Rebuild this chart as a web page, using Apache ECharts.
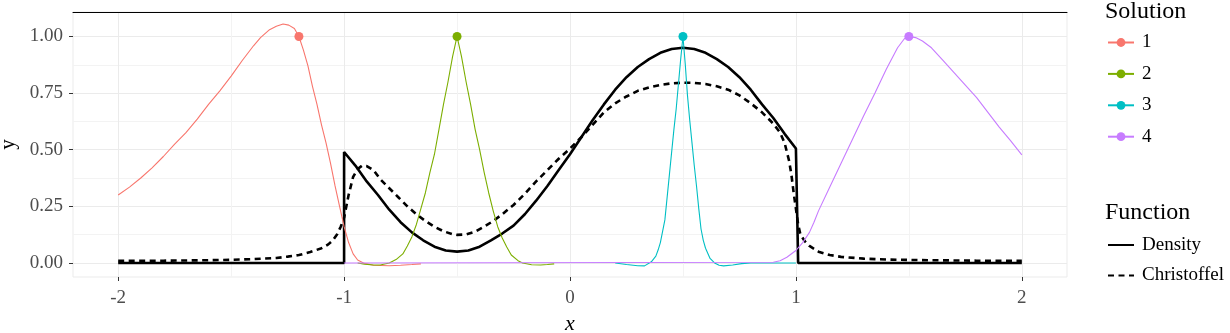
<!DOCTYPE html>
<html>
<head>
<meta charset="utf-8">
<script src="https://cdn.jsdelivr.net/npm/echarts@6/dist/echarts.min.js"></script>
<style>
    html, body { margin: 0; padding: 0; background: #fff; }
    #chart { width: 1230px; height: 333px; }
</style>
</head>
<body>
<div id="chart"></div>
<script>
// tick positions
var xTicks = [-2, -1, 0, 1, 2];
var xMinor = [-1.5, -0.5, 0.5, 1.5];
var yTicks = [0, 0.25, 0.5, 0.75, 1];
var yMinor = [0.125, 0.375, 0.625, 0.875];

// Function curves (black)
var densityX = [-2, -1, -1, -0.95, -0.9, -0.85, -0.8, -0.75, -0.7, -0.65, -0.6, -0.55, -0.5, -0.45, -0.4, -0.35, -0.3, -0.25, -0.2, -0.15, -0.1, -0.05,
    0, 0.05, 0.1, 0.15, 0.2, 0.25, 0.3, 0.35, 0.4, 0.45, 0.5, 0.55, 0.6, 0.65, 0.7, 0.75, 0.8, 0.85, 0.9, 0.95, 1, 1.01, 2];
var densityY = [0, 0, 0.49, 0.43, 0.36, 0.3, 0.235, 0.18, 0.135, 0.1, 0.072, 0.055, 0.05, 0.055, 0.072, 0.1, 0.13, 0.165, 0.215, 0.275, 0.34, 0.41,
    0.48, 0.555, 0.63, 0.7, 0.765, 0.82, 0.865, 0.9, 0.928, 0.945, 0.95, 0.945, 0.928, 0.9, 0.865, 0.82, 0.765, 0.7, 0.64, 0.57, 0.505, 0, 0];

var christX = [-2, -1.8, -1.6, -1.5, -1.4, -1.3, -1.25, -1.2, -1.15, -1.1, -1.07, -1.05, -1.03, -1.015, -1, -0.98, -0.96, -0.94, -0.92, -0.9,
    -0.87, -0.84, -0.8, -0.76, -0.72, -0.68, -0.64, -0.6, -0.56, -0.52, -0.5, -0.46, -0.42, -0.38, -0.34, -0.3, -0.25, -0.2, -0.15, -0.1, -0.05,
    0, 0.05, 0.1, 0.15, 0.2, 0.25, 0.3, 0.35, 0.4, 0.45, 0.5, 0.55, 0.6, 0.65, 0.7, 0.75, 0.8, 0.85, 0.9, 0.93, 0.95, 0.97, 0.98, 0.99, 1,
    1.01, 1.02, 1.04, 1.06, 1.1, 1.15, 1.2, 1.3, 1.4, 1.6, 1.8, 2];
var christY = [0.009, 0.01, 0.012, 0.014, 0.017, 0.022, 0.028, 0.035, 0.048, 0.065, 0.082, 0.1, 0.128, 0.16, 0.2, 0.3, 0.38, 0.415, 0.43, 0.428,
    0.41, 0.37, 0.33, 0.29, 0.25, 0.215, 0.185, 0.16, 0.14, 0.127, 0.124, 0.126, 0.138, 0.16, 0.185, 0.215, 0.256, 0.305, 0.36, 0.41, 0.46,
    0.505, 0.555, 0.61, 0.665, 0.705, 0.735, 0.76, 0.775, 0.786, 0.793, 0.796, 0.795, 0.79, 0.78, 0.765, 0.74, 0.705, 0.665, 0.615, 0.575, 0.53, 0.45, 0.39, 0.31, 0.24,
    0.17, 0.125, 0.095, 0.075, 0.05, 0.035, 0.027, 0.019, 0.015, 0.012, 0.01, 0.009];

// Solution curves
var sol1X = [-2, -1.95, -1.9, -1.85, -1.8, -1.75, -1.7, -1.65, -1.6, -1.55, -1.5, -1.45, -1.4, -1.37, -1.33, -1.3, -1.27, -1.245, -1.22, -1.2,
    -1.18, -1.16, -1.14, -1.12, -1.1, -1.08, -1.06, -1.04, -1.02, -1, -0.98, -0.96, -0.94, -0.91, -0.87, -0.8, -0.75, -0.7, -0.66];
var sol1Y = [0.3, 0.335, 0.375, 0.42, 0.47, 0.525, 0.575, 0.635, 0.7, 0.76, 0.825, 0.895, 0.96, 0.995, 1.03, 1.045, 1.055, 1.05, 1.035, 1,
    0.94, 0.87, 0.78, 0.7, 0.61, 0.53, 0.44, 0.34, 0.25, 0.16, 0.09, 0.04, 0.013, -0.002, -0.01, -0.012, -0.01, -0.007, -0.004];

var sol2X = [-0.94, -0.91, -0.87, -0.84, -0.8, -0.77, -0.74, -0.72, -0.7, -0.68, -0.66, -0.64, -0.62, -0.6, -0.58, -0.56, -0.54, -0.52, -0.5,
    -0.48, -0.46, -0.44, -0.42, -0.4, -0.38, -0.36, -0.34, -0.32, -0.3, -0.28, -0.26, -0.23, -0.21, -0.17, -0.13, -0.1, -0.07];
var sol2Y = [0, -0.005, -0.009, -0.009, 0, 0.015, 0.04, 0.075, 0.115, 0.17, 0.24, 0.31, 0.4, 0.48, 0.59, 0.7, 0.8, 0.91, 1,
    0.91, 0.8, 0.7, 0.59, 0.5, 0.4, 0.31, 0.23, 0.16, 0.11, 0.07, 0.035, 0.01, 0, -0.008, -0.009, -0.007, -0.004];

var sol3X = [0.2, 0.25, 0.3, 0.33, 0.36, 0.38, 0.39, 0.4, 0.42, 0.44, 0.46, 0.47, 0.48, 0.49, 0.5, 0.51, 0.52, 0.53, 0.54, 0.55, 0.56,
    0.57, 0.58, 0.59, 0.6, 0.62, 0.64, 0.66, 0.68, 0.72, 0.76, 0.8, 0.9, 1];
var sol3Y = [0, -0.007, -0.012, -0.013, 0.005, 0.03, 0.057, 0.09, 0.19, 0.39, 0.59, 0.68, 0.79, 0.9, 1, 0.88, 0.74, 0.63, 0.53, 0.43, 0.34,
    0.24, 0.15, 0.1, 0.065, 0.02, 0, -0.01, -0.013, -0.009, -0.003, 0, 0, 0];

var sol4X = [-1, 0.9, 0.93, 0.96, 1, 1.03, 1.06, 1.08, 1.1, 1.15, 1.2, 1.25, 1.3, 1.35, 1.4, 1.45, 1.48, 1.5, 1.53, 1.56, 1.6, 1.65, 1.7,
    1.75, 1.8, 1.85, 1.9, 1.95, 2];
var sol4Y = [0, 0.003, 0.01, 0.025, 0.055, 0.09, 0.135, 0.18, 0.23, 0.335, 0.44, 0.545, 0.65, 0.75, 0.855, 0.95, 0.99, 1, 0.995, 0.98, 0.95, 0.895, 0.84,
    0.785, 0.73, 0.665, 0.6, 0.54, 0.477];

// marked points
var peakX = [-1.2, -0.5, 0.5, 1.5];
var peakY = [1, 1, 1, 1];

var solNames = ['1', '2', '3', '4'];
var solColors = ['#F8766D', '#7CAE00', '#00BFC4', '#C77CFF'];

var FONT = '"Liberation Serif", "DejaVu Serif", serif';

function pairs(xs, ys) {
    var out = [];
    for (var i = 0; i < xs.length; i++) {
        out.push([xs[i], ys[i]]);
    }
    return out;
}

var chart = echarts.init(document.getElementById('chart'), null, { renderer : 'canvas' });

var solX = [sol1X, sol2X, sol3X, sol4X];
var solY = [sol1Y, sol2Y, sol3Y, sol4Y];

var series = [ {
    name : 'Density',
    type : 'line',
    data : pairs(densityX, densityY),
    symbol : 'none',
    lineStyle : { color : '#000', width : 2.6 },
    itemStyle : { color : '#000' }
}, {
    name : 'Christoffel',
    type : 'line',
    data : pairs(christX, christY),
    symbol : 'none',
    lineStyle : { color : '#000', width : 2.6, type : [6, 4.5] },
    itemStyle : { color : '#000' }
} ];

for (var i = 0; i < solNames.length; i++) {
    series.push({
        name : solNames[i],
        type : 'line',
        data : pairs(solX[i], solY[i]),
        symbol : 'none',
        lineStyle : { color : solColors[i], width : 1.1 },
        itemStyle : { color : solColors[i] },
        markPoint : {
            symbol : 'circle',
            symbolSize : 9,
            label : { show : false },
            itemStyle : { color : solColors[i] },
            data : [ { coord : [peakX[i], peakY[i]] } ]
        }
    });
}

var option = {
    animation : false,
    backgroundColor : '#fff',
    grid : {
        left : 73,
        right : 163,
        top : 12,
        bottom : 56,
        show : true,
        borderColor : '#EBEBEB',
        borderWidth : 1,
        outerBoundsMode : 'none'
    },
    xAxis : [ {
        type : 'value',
        min : -2.2,
        max : 2.2,
        position : 'bottom',
        name : 'x',
        nameLocation : 'middle',
        nameGap : 36,
        nameTextStyle : { fontFamily : FONT, fontSize : 22, fontStyle : 'italic', color : '#000' },
        axisLine : { show : false, onZero : false },
        axisTick : { show : true, length : 4, customValues : xTicks, lineStyle : { color : '#333' } },
        axisLabel : { customValues : xTicks, margin : 12, fontFamily : FONT, fontSize : 19, color : '#4D4D4D' },
        splitLine : { show : true, lineStyle : { color : '#EBEBEB', width : 1 } }
    }, {
        type : 'value',
        min : -2.2,
        max : 2.2,
        position : 'top',
        axisLine : { show : true, onZero : false, lineStyle : { color : '#000', width : 1 } },
        axisTick : { show : false, customValues : xMinor },
        axisLabel : { show : false, customValues : xMinor },
        splitLine : { show : true, lineStyle : { color : '#F3F3F3', width : 1 } }
    } ],
    yAxis : [ {
        type : 'value',
        min : -0.062,
        max : 1.108,
        position : 'left',
        name : 'y',
        nameLocation : 'middle',
        nameGap : 54,
        nameTextStyle : { fontFamily : FONT, fontSize : 21, color : '#000' },
        axisLine : { show : false, onZero : false },
        axisTick : { show : true, length : 4, customValues : yTicks, lineStyle : { color : '#333' } },
        axisLabel : {
            customValues : yTicks,
            margin : 10,
            fontFamily : FONT,
            fontSize : 19,
            color : '#4D4D4D',
            formatter : function(v) {
                return v.toFixed(2);
            }
        },
        splitLine : { show : true, lineStyle : { color : '#EBEBEB', width : 1 } }
    }, {
        type : 'value',
        min : -0.062,
        max : 1.108,
        position : 'right',
        axisLine : { show : false, onZero : false },
        axisTick : { show : false, customValues : yMinor },
        axisLabel : { show : false, customValues : yMinor },
        splitLine : { show : true, lineStyle : { color : '#F3F3F3', width : 1 } }
    } ],
    legend : [ {
        data : solNames,
        orient : 'vertical',
        left : 1107,
        top : 33,
        padding : 0,
        itemWidth : 26,
        itemHeight : 11,
        itemGap : 12.4,
        selectedMode : false,
        textStyle : { fontFamily : FONT, fontSize : 19, color : '#000', padding : [0, 0, 0, 3] }
    }, {
        data : ['Density', 'Christoffel'],
        orient : 'vertical',
        left : 1107,
        top : 235.5,
        padding : 0,
        itemWidth : 26,
        itemHeight : 11,
        itemGap : 11.5,
        selectedMode : false,
        itemStyle : { opacity : 0, color : 'rgba(0,0,0,0)', borderWidth : 0 },
        textStyle : { fontFamily : FONT, fontSize : 19, color : '#000', padding : [0, 0, 0, 3] }
    } ],
    graphic : [ {
        type : 'text',
        left : 1105,
        top : 0,
        style : { text : 'Solution', font : '24px ' + FONT, fill : '#000' }
    }, {
        type : 'text',
        left : 1105,
        top : 201,
        style : { text : 'Function', font : '24px ' + FONT, fill : '#000' }
    } ],
    series : series
};

chart.setOption(option);
</script>
</body>
</html>
